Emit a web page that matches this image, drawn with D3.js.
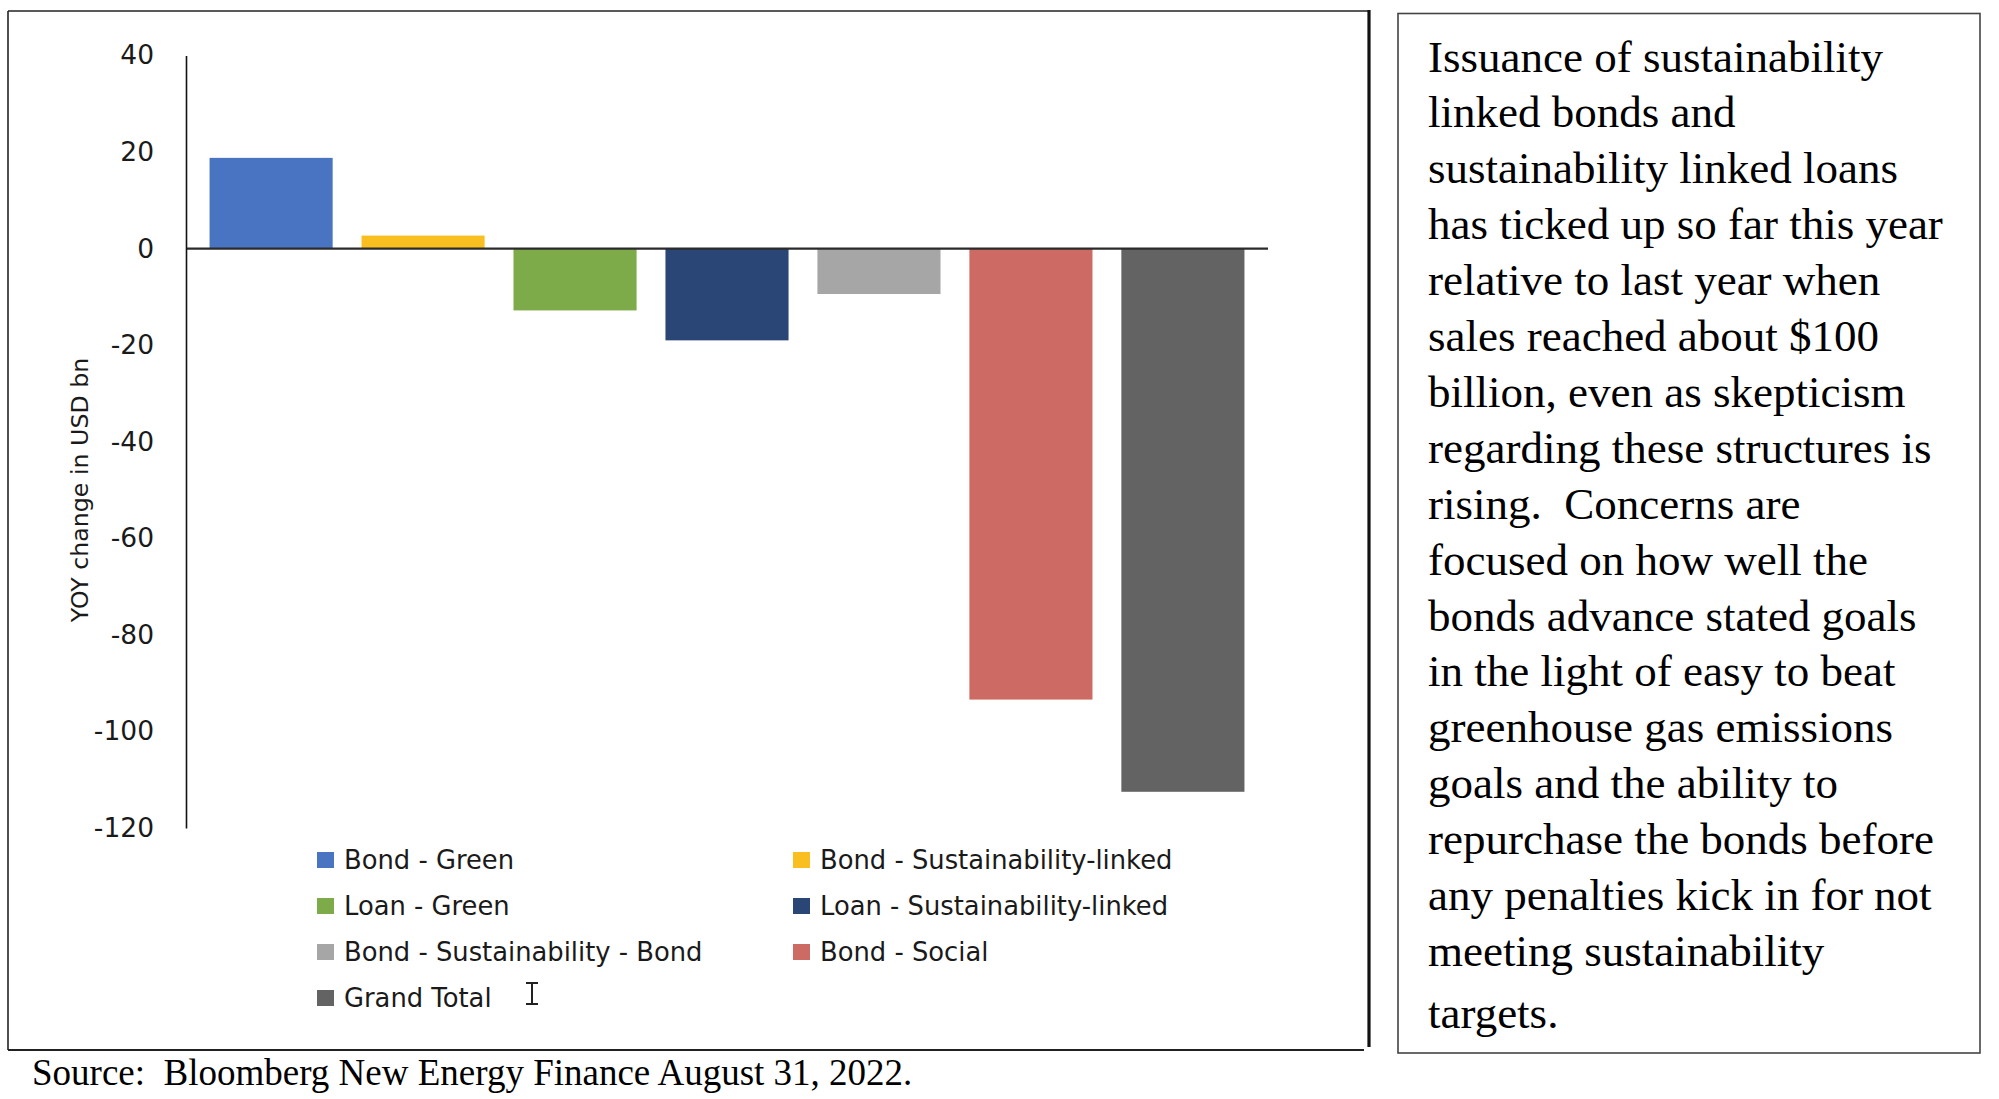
<!DOCTYPE html>
<html>
<head>
<meta charset="utf-8">
<script src="https://cdn.jsdelivr.net/npm/d3@7"></script>
<style>
  html, body { margin: 0; padding: 0; background: #fff; }
  svg { display: block; }
  .sans { font-family: "DejaVu Sans", sans-serif; }
  .serif { font-family: "Liberation Serif", "Times New Roman", serif; }
</style>
</head>
<body>
<svg id="chart" width="1999" height="1099"></svg>
<script>
// data
var categories = ["Bond - Green", "Bond - Sustainability-linked", "Loan - Green",
  "Loan - Sustainability-linked", "Bond - Sustainability - Bond", "Bond - Social", "Grand Total"];
var values = [18.8, 2.7, -12.8, -19.0, -9.4, -93.4, -112.5];
var colors = ["#4874c1", "#f9be1f", "#7eab4a", "#2a4676", "#a6a6a6", "#cd6a63", "#636363"];
var yTicks = [40, 20, 0, -20, -40, -60, -80, -100, -120];
var yTitle = "YOY change in USD bn";
var noteLines = [
  "Issuance of sustainability",
  "linked bonds and",
  "sustainability linked loans",
  "has ticked up so far this year",
  "relative to last year when",
  "sales reached about $100",
  "billion, even as skepticism",
  "regarding these structures is",
  "rising.  Concerns are",
  "focused on how well the",
  "bonds advance stated goals",
  "in the light of easy to beat",
  "greenhouse gas emissions",
  "goals and the ability to",
  "repurchase the bonds before",
  "any penalties kick in for not",
  "meeting sustainability",
  "targets."
];
var sourceText = "Source:  Bloomberg New Energy Finance August 31, 2022.";

var svg = d3.select("#chart");

// frame around chart
var fx0 = 8, fy0 = 11, fx1 = 1369, fy1 = 1050;
svg.append("line").attr("x1", fx0).attr("y1", fy0).attr("x2", fx1).attr("y2", fy0)
  .attr("stroke", "#222").attr("stroke-width", 1.6);
svg.append("line").attr("x1", fx0).attr("y1", fy0).attr("x2", fx0).attr("y2", fy1)
  .attr("stroke", "#222").attr("stroke-width", 1.6);
svg.append("line").attr("x1", fx0).attr("y1", fy1).attr("x2", fx1 - 5).attr("y2", fy1)
  .attr("stroke", "#222").attr("stroke-width", 1.8);
svg.append("line").attr("x1", fx1).attr("y1", fy0 - 1).attr("x2", fx1).attr("y2", fy1 - 3)
  .attr("stroke", "#111").attr("stroke-width", 3.2);

// scales
var axisX = 186, plotRight = 1268;
var y = d3.scaleLinear().domain([-120, 40]).range([828, 55.5]);
var x = d3.scaleBand().domain(categories).range([axisX, plotRight])
  .paddingInner(0.19).paddingOuter(0.155);

// bars
svg.append("g").selectAll("rect").data(values).enter().append("rect")
  .attr("x", function(d, i) { return x(categories[i]); })
  .attr("y", function(d) { return y(Math.max(0, d)); })
  .attr("width", x.bandwidth())
  .attr("height", function(d) { return Math.abs(y(d) - y(0)); })
  .attr("fill", function(d, i) { return colors[i]; });

// zero line
svg.append("line")
  .attr("x1", axisX).attr("x2", plotRight)
  .attr("y1", y(0)).attr("y2", y(0))
  .attr("stroke", "#2b2b2b").attr("stroke-width", 2.2);

// y axis (plain hyphen minus like the original)
var yAxis = svg.append("g").attr("transform", "translate(" + axisX + ",0)")
  .call(d3.axisLeft(y).tickValues(yTicks).tickSize(0).tickPadding(32)
    .tickFormat(function(d) { return String(d); }));
yAxis.select(".domain").attr("stroke", "#111").attr("stroke-width", 1.6);
yAxis.selectAll("text").attr("class", "sans").attr("font-size", 26.5).attr("fill", "#1a1a1a");

svg.append("text").attr("class", "sans")
  .attr("transform", "translate(88,490) rotate(-90)")
  .attr("text-anchor", "middle").attr("font-size", 23.7).attr("fill", "#1a1a1a")
  .text(yTitle);

// legend, two columns
var legX = [317, 793], legY0 = 860, legDy = 46;
var leg = svg.append("g").selectAll("g").data(categories).enter().append("g")
  .attr("transform", function(d, i) {
    return "translate(" + legX[i % 2] + "," + (legY0 + Math.floor(i / 2) * legDy) + ")";
  });
leg.append("rect").attr("x", 0).attr("y", -8).attr("width", 17).attr("height", 16)
  .attr("fill", function(d, i) { return colors[i]; });
leg.append("text").attr("class", "sans").attr("x", 27).attr("y", 9)
  .attr("font-size", 25.8).attr("fill", "#1a1a1a")
  .text(function(d) { return d; });

// text cursor left on the picture
svg.append("path")
  .attr("d", "M526,983H538M532,983V1004M526,1004H538")
  .attr("fill", "none").attr("stroke", "#222").attr("stroke-width", 2);

// commentary box
svg.append("rect").attr("x", 1398).attr("y", 13.5).attr("width", 582).attr("height", 1039.5)
  .attr("fill", "none").attr("stroke", "#444").attr("stroke-width", 1.6);
svg.append("g").selectAll("text").data(noteLines).enter().append("text")
  .attr("class", "serif")
  .attr("x", 1428)
  .attr("y", function(d, i) { return 71.5 + i * 55.9 + (i == noteLines.length - 1 ? 6 : 0); })
  .attr("font-size", 45).attr("fill", "#000")
  .style("white-space", "pre")
  .text(function(d) { return d; });

// source
svg.append("text").attr("class", "serif")
  .attr("x", 32).attr("y", 1085)
  .attr("font-size", 37).attr("fill", "#000")
  .style("white-space", "pre")
  .text(sourceText);
</script>
</body>
</html>
